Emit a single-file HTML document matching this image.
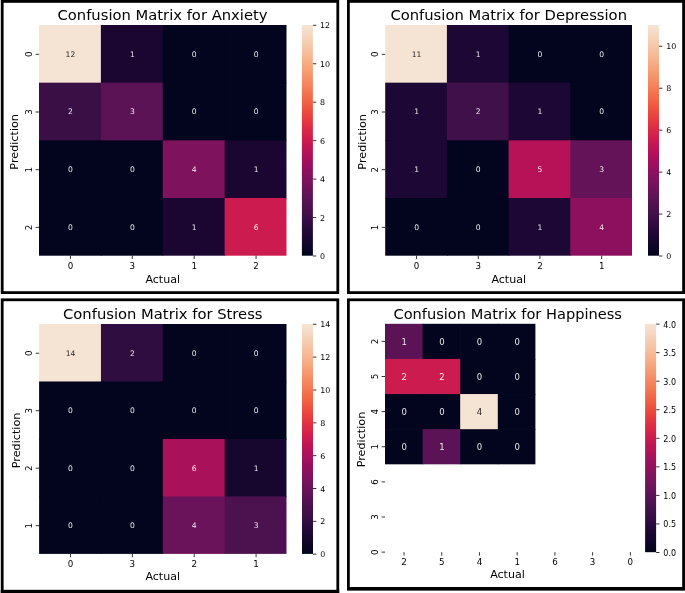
<!DOCTYPE html>
<html lang="en"><head><meta charset="utf-8"><title>Confusion Matrices</title>
<style>
html,body{margin:0;padding:0;background:#fff;}
body{width:685px;height:593px;overflow:hidden;}
svg{display:block;font-family:"DejaVu Sans","Liberation Sans",sans-serif;filter:blur(0.35px);}
</style></head><body>
<svg width="685" height="593" viewBox="0 0 685 593">
<defs>
<linearGradient id="rk" x1="0" y1="0" x2="0" y2="1"><stop offset="0.0000" stop-color="#f5e4d4"/><stop offset="0.0312" stop-color="#f5dbc6"/><stop offset="0.0625" stop-color="#f5d1b7"/><stop offset="0.0938" stop-color="#f5c6a8"/><stop offset="0.1250" stop-color="#f6bc99"/><stop offset="0.1562" stop-color="#f6b089"/><stop offset="0.1875" stop-color="#f6a37a"/><stop offset="0.2188" stop-color="#f5966c"/><stop offset="0.2500" stop-color="#f58860"/><stop offset="0.2812" stop-color="#f47a54"/><stop offset="0.3125" stop-color="#f26b49"/><stop offset="0.3438" stop-color="#f05c42"/><stop offset="0.3750" stop-color="#ec4c3e"/><stop offset="0.4062" stop-color="#e73d3f"/><stop offset="0.4375" stop-color="#df2f44"/><stop offset="0.4688" stop-color="#d62449"/><stop offset="0.5000" stop-color="#cb1b4f"/><stop offset="0.5312" stop-color="#be1455"/><stop offset="0.5625" stop-color="#b0115a"/><stop offset="0.5938" stop-color="#a1105d"/><stop offset="0.6250" stop-color="#92105e"/><stop offset="0.6562" stop-color="#84125e"/><stop offset="0.6875" stop-color="#76135c"/><stop offset="0.7188" stop-color="#69135a"/><stop offset="0.7500" stop-color="#5c1356"/><stop offset="0.7812" stop-color="#4f1251"/><stop offset="0.8125" stop-color="#43104b"/><stop offset="0.8438" stop-color="#370e45"/><stop offset="0.8750" stop-color="#2b0b3d"/><stop offset="0.9062" stop-color="#1f0835"/><stop offset="0.9375" stop-color="#15062c"/><stop offset="0.9688" stop-color="#0b0524"/><stop offset="1.0000" stop-color="#02051d"/></linearGradient>
</defs>
<rect width="685" height="593" fill="#fff"/>
<g>
<rect x="2.20" y="1.40" width="335.60" height="291.20" fill="none" stroke="#000" stroke-width="2.8"/>
<rect x="39.00" y="25.00" width="62.58" height="58.38" fill="#f5e4d4"/>
<rect x="100.88" y="25.00" width="62.58" height="58.38" fill="#1b0631"/>
<rect x="162.75" y="25.00" width="62.58" height="58.38" fill="#02051d"/>
<rect x="224.62" y="25.00" width="61.88" height="58.38" fill="#02051d"/>
<rect x="39.00" y="82.67" width="62.58" height="58.38" fill="#3a0f46"/>
<rect x="100.88" y="82.67" width="62.58" height="58.38" fill="#5c1356"/>
<rect x="162.75" y="82.67" width="62.58" height="58.38" fill="#02051d"/>
<rect x="224.62" y="82.67" width="61.88" height="58.38" fill="#02051d"/>
<rect x="39.00" y="140.35" width="62.58" height="58.38" fill="#02051d"/>
<rect x="100.88" y="140.35" width="62.58" height="58.38" fill="#02051d"/>
<rect x="162.75" y="140.35" width="62.58" height="58.38" fill="#7f125d"/>
<rect x="224.62" y="140.35" width="61.88" height="58.38" fill="#1b0631"/>
<rect x="39.00" y="198.02" width="62.58" height="57.67" fill="#02051d"/>
<rect x="100.88" y="198.02" width="62.58" height="57.67" fill="#02051d"/>
<rect x="162.75" y="198.02" width="62.58" height="57.67" fill="#1b0631"/>
<rect x="224.62" y="198.02" width="61.88" height="57.67" fill="#cb1b4f"/>
<g font-size="7.6" text-anchor="middle">
<text x="70.44" y="56.81" fill="#262626">12</text>
<text x="132.31" y="56.81" fill="#fff" fill-opacity="0.9">1</text>
<text x="194.19" y="56.81" fill="#fff" fill-opacity="0.9">0</text>
<text x="256.06" y="56.81" fill="#fff" fill-opacity="0.9">0</text>
<text x="70.44" y="114.49" fill="#fff" fill-opacity="0.9">2</text>
<text x="132.31" y="114.49" fill="#fff" fill-opacity="0.9">3</text>
<text x="194.19" y="114.49" fill="#fff" fill-opacity="0.9">0</text>
<text x="256.06" y="114.49" fill="#fff" fill-opacity="0.9">0</text>
<text x="70.44" y="172.16" fill="#fff" fill-opacity="0.9">0</text>
<text x="132.31" y="172.16" fill="#fff" fill-opacity="0.9">0</text>
<text x="194.19" y="172.16" fill="#fff" fill-opacity="0.9">4</text>
<text x="256.06" y="172.16" fill="#fff" fill-opacity="0.9">1</text>
<text x="70.44" y="229.84" fill="#fff" fill-opacity="0.9">0</text>
<text x="132.31" y="229.84" fill="#fff" fill-opacity="0.9">0</text>
<text x="194.19" y="229.84" fill="#fff" fill-opacity="0.9">1</text>
<text x="256.06" y="229.84" fill="#fff" fill-opacity="0.9">6</text>
</g>
<path d="M70.44 255.70v3.4M132.31 255.70v3.4M194.19 255.70v3.4M256.06 255.70v3.4M39.00 54.34h-3.4M39.00 112.01h-3.4M39.00 169.69h-3.4M39.00 227.36h-3.4M312.90 256.00h3.4M312.90 217.55h3.4M312.90 179.10h3.4M312.90 140.65h3.4M312.90 102.20h3.4M312.90 63.75h3.4M312.90 25.30h3.4" stroke="#000" stroke-width="0.8" fill="none"/>
<g font-size="8.7" fill="#000">
<text x="70.44" y="268.80" text-anchor="middle">0</text>
<text x="132.31" y="268.80" text-anchor="middle">3</text>
<text x="194.19" y="268.80" text-anchor="middle">1</text>
<text x="256.06" y="268.80" text-anchor="middle">2</text>
<text transform="translate(31.60 54.34) rotate(-90)" text-anchor="middle">0</text>
<text transform="translate(31.60 112.01) rotate(-90)" text-anchor="middle">3</text>
<text transform="translate(31.60 169.69) rotate(-90)" text-anchor="middle">1</text>
<text transform="translate(31.60 227.36) rotate(-90)" text-anchor="middle">2</text>
<text x="320.10" y="258.98" font-size="7.9">0</text>
<text x="320.10" y="220.53" font-size="7.9">2</text>
<text x="320.10" y="182.08" font-size="7.9">4</text>
<text x="320.10" y="143.63" font-size="7.9">6</text>
<text x="320.10" y="105.18" font-size="7.9">8</text>
<text x="320.10" y="66.73" font-size="7.9">10</text>
<text x="320.10" y="28.28" font-size="7.9">12</text>
</g>
<rect x="301.90" y="25.00" width="11.00" height="230.70" fill="url(#rk)"/>
<text x="162.5" y="20.1" font-size="14.75" text-anchor="middle" fill="#000">Confusion Matrix for Anxiety</text>
<text x="162.7" y="283.1" font-size="11.05" text-anchor="middle" fill="#000">Actual</text>
<text transform="translate(18.4 141.85) rotate(-90)" font-size="11.2" text-anchor="middle" fill="#000">Prediction</text>
</g>
<g>
<rect x="348.40" y="1.40" width="335.20" height="291.20" fill="none" stroke="#000" stroke-width="2.8"/>
<rect x="385.20" y="25.00" width="62.40" height="58.38" fill="#f5e4d4"/>
<rect x="446.90" y="25.00" width="62.40" height="58.38" fill="#1d0734"/>
<rect x="508.60" y="25.00" width="62.40" height="58.38" fill="#02051d"/>
<rect x="570.30" y="25.00" width="61.70" height="58.38" fill="#02051d"/>
<rect x="385.20" y="82.67" width="62.40" height="58.38" fill="#1d0734"/>
<rect x="446.90" y="82.67" width="62.40" height="58.38" fill="#40104a"/>
<rect x="508.60" y="82.67" width="62.40" height="58.38" fill="#1d0734"/>
<rect x="570.30" y="82.67" width="61.70" height="58.38" fill="#02051d"/>
<rect x="385.20" y="140.35" width="62.40" height="58.38" fill="#1d0734"/>
<rect x="446.90" y="140.35" width="62.40" height="58.38" fill="#02051d"/>
<rect x="508.60" y="140.35" width="62.40" height="58.38" fill="#b71257"/>
<rect x="570.30" y="140.35" width="61.70" height="58.38" fill="#641358"/>
<rect x="385.20" y="198.02" width="62.40" height="57.67" fill="#02051d"/>
<rect x="446.90" y="198.02" width="62.40" height="57.67" fill="#02051d"/>
<rect x="508.60" y="198.02" width="62.40" height="57.67" fill="#1d0734"/>
<rect x="570.30" y="198.02" width="61.70" height="57.67" fill="#8d105e"/>
<g font-size="7.6" text-anchor="middle">
<text x="416.55" y="56.81" fill="#262626">11</text>
<text x="478.25" y="56.81" fill="#fff" fill-opacity="0.9">1</text>
<text x="539.95" y="56.81" fill="#fff" fill-opacity="0.9">0</text>
<text x="601.65" y="56.81" fill="#fff" fill-opacity="0.9">0</text>
<text x="416.55" y="114.49" fill="#fff" fill-opacity="0.9">1</text>
<text x="478.25" y="114.49" fill="#fff" fill-opacity="0.9">2</text>
<text x="539.95" y="114.49" fill="#fff" fill-opacity="0.9">1</text>
<text x="601.65" y="114.49" fill="#fff" fill-opacity="0.9">0</text>
<text x="416.55" y="172.16" fill="#fff" fill-opacity="0.9">1</text>
<text x="478.25" y="172.16" fill="#fff" fill-opacity="0.9">0</text>
<text x="539.95" y="172.16" fill="#fff" fill-opacity="0.9">5</text>
<text x="601.65" y="172.16" fill="#fff" fill-opacity="0.9">3</text>
<text x="416.55" y="229.84" fill="#fff" fill-opacity="0.9">0</text>
<text x="478.25" y="229.84" fill="#fff" fill-opacity="0.9">0</text>
<text x="539.95" y="229.84" fill="#fff" fill-opacity="0.9">1</text>
<text x="601.65" y="229.84" fill="#fff" fill-opacity="0.9">4</text>
</g>
<path d="M416.55 255.70v3.4M478.25 255.70v3.4M539.95 255.70v3.4M601.65 255.70v3.4M385.20 54.34h-3.4M385.20 112.01h-3.4M385.20 169.69h-3.4M385.20 227.36h-3.4M659.00 256.00h3.4M659.00 214.05h3.4M659.00 172.11h3.4M659.00 130.16h3.4M659.00 88.22h3.4M659.00 46.27h3.4" stroke="#000" stroke-width="0.8" fill="none"/>
<g font-size="8.7" fill="#000">
<text x="416.55" y="268.80" text-anchor="middle">0</text>
<text x="478.25" y="268.80" text-anchor="middle">3</text>
<text x="539.95" y="268.80" text-anchor="middle">2</text>
<text x="601.65" y="268.80" text-anchor="middle">1</text>
<text transform="translate(377.80 54.34) rotate(-90)" text-anchor="middle">0</text>
<text transform="translate(377.80 112.01) rotate(-90)" text-anchor="middle">3</text>
<text transform="translate(377.80 169.69) rotate(-90)" text-anchor="middle">2</text>
<text transform="translate(377.80 227.36) rotate(-90)" text-anchor="middle">1</text>
<text x="666.20" y="258.98" font-size="7.9">0</text>
<text x="666.20" y="217.04" font-size="7.9">2</text>
<text x="666.20" y="175.09" font-size="7.9">4</text>
<text x="666.20" y="133.15" font-size="7.9">6</text>
<text x="666.20" y="91.20" font-size="7.9">8</text>
<text x="666.20" y="49.26" font-size="7.9">10</text>
</g>
<rect x="648.00" y="25.00" width="11.00" height="230.70" fill="url(#rk)"/>
<text x="508.7" y="20.0" font-size="14.75" text-anchor="middle" fill="#000">Confusion Matrix for Depression</text>
<text x="508.7" y="283.1" font-size="11.05" text-anchor="middle" fill="#000">Actual</text>
<text transform="translate(365.5 141.85) rotate(-90)" font-size="11.2" text-anchor="middle" fill="#000">Prediction</text>
</g>
<g>
<rect x="2.20" y="299.80" width="335.60" height="291.80" fill="none" stroke="#000" stroke-width="2.8"/>
<rect x="0.8" y="589.8" width="338.40" height="3.20" fill="#000"/>
<rect x="39.10" y="324.00" width="62.55" height="58.17" fill="#f5e4d4"/>
<rect x="100.95" y="324.00" width="62.55" height="58.17" fill="#300d41"/>
<rect x="162.80" y="324.00" width="62.55" height="58.17" fill="#02051d"/>
<rect x="224.65" y="324.00" width="61.85" height="58.17" fill="#02051d"/>
<rect x="39.10" y="381.48" width="62.55" height="58.17" fill="#02051d"/>
<rect x="100.95" y="381.48" width="62.55" height="58.17" fill="#02051d"/>
<rect x="162.80" y="381.48" width="62.55" height="58.17" fill="#02051d"/>
<rect x="224.65" y="381.48" width="61.85" height="58.17" fill="#02051d"/>
<rect x="39.10" y="438.95" width="62.55" height="58.17" fill="#02051d"/>
<rect x="100.95" y="438.95" width="62.55" height="58.17" fill="#02051d"/>
<rect x="162.80" y="438.95" width="62.55" height="58.17" fill="#aa115b"/>
<rect x="224.65" y="438.95" width="61.85" height="58.17" fill="#17062e"/>
<rect x="39.10" y="496.42" width="62.55" height="57.47" fill="#02051d"/>
<rect x="100.95" y="496.42" width="62.55" height="57.47" fill="#02051d"/>
<rect x="162.80" y="496.42" width="62.55" height="57.47" fill="#6b135a"/>
<rect x="224.65" y="496.42" width="61.85" height="57.47" fill="#4c1250"/>
<g font-size="7.6" text-anchor="middle">
<text x="70.53" y="355.71" fill="#262626">14</text>
<text x="132.38" y="355.71" fill="#fff" fill-opacity="0.9">2</text>
<text x="194.22" y="355.71" fill="#fff" fill-opacity="0.9">0</text>
<text x="256.07" y="355.71" fill="#fff" fill-opacity="0.9">0</text>
<text x="70.53" y="413.19" fill="#fff" fill-opacity="0.9">0</text>
<text x="132.38" y="413.19" fill="#fff" fill-opacity="0.9">0</text>
<text x="194.22" y="413.19" fill="#fff" fill-opacity="0.9">0</text>
<text x="256.07" y="413.19" fill="#fff" fill-opacity="0.9">0</text>
<text x="70.53" y="470.66" fill="#fff" fill-opacity="0.9">0</text>
<text x="132.38" y="470.66" fill="#fff" fill-opacity="0.9">0</text>
<text x="194.22" y="470.66" fill="#fff" fill-opacity="0.9">6</text>
<text x="256.07" y="470.66" fill="#fff" fill-opacity="0.9">1</text>
<text x="70.53" y="528.14" fill="#fff" fill-opacity="0.9">0</text>
<text x="132.38" y="528.14" fill="#fff" fill-opacity="0.9">0</text>
<text x="194.22" y="528.14" fill="#fff" fill-opacity="0.9">4</text>
<text x="256.07" y="528.14" fill="#fff" fill-opacity="0.9">3</text>
</g>
<path d="M70.53 553.90v3.4M132.38 553.90v3.4M194.22 553.90v3.4M256.07 553.90v3.4M39.10 353.24h-3.4M39.10 410.71h-3.4M39.10 468.19h-3.4M39.10 525.66h-3.4M313.00 554.20h3.4M313.00 521.36h3.4M313.00 488.51h3.4M313.00 455.67h3.4M313.00 422.83h3.4M313.00 389.99h3.4M313.00 357.14h3.4M313.00 324.30h3.4" stroke="#000" stroke-width="0.8" fill="none"/>
<g font-size="8.7" fill="#000">
<text x="70.53" y="567.00" text-anchor="middle">0</text>
<text x="132.38" y="567.00" text-anchor="middle">3</text>
<text x="194.22" y="567.00" text-anchor="middle">2</text>
<text x="256.07" y="567.00" text-anchor="middle">1</text>
<text transform="translate(31.70 353.24) rotate(-90)" text-anchor="middle">0</text>
<text transform="translate(31.70 410.71) rotate(-90)" text-anchor="middle">3</text>
<text transform="translate(31.70 468.19) rotate(-90)" text-anchor="middle">2</text>
<text transform="translate(31.70 525.66) rotate(-90)" text-anchor="middle">1</text>
<text x="320.20" y="557.18" font-size="7.9">0</text>
<text x="320.20" y="524.34" font-size="7.9">2</text>
<text x="320.20" y="491.50" font-size="7.9">4</text>
<text x="320.20" y="458.65" font-size="7.9">6</text>
<text x="320.20" y="425.81" font-size="7.9">8</text>
<text x="320.20" y="392.97" font-size="7.9">10</text>
<text x="320.20" y="360.13" font-size="7.9">12</text>
<text x="320.20" y="327.28" font-size="7.9">14</text>
</g>
<rect x="302.00" y="324.00" width="11.00" height="229.90" fill="url(#rk)"/>
<text x="162.8" y="318.5" font-size="14.75" text-anchor="middle" fill="#000">Confusion Matrix for Stress</text>
<text x="162.7" y="580.4" font-size="11.05" text-anchor="middle" fill="#000">Actual</text>
<text transform="translate(19.5 440.45) rotate(-90)" font-size="11.2" text-anchor="middle" fill="#000">Prediction</text>
</g>
<g>
<rect x="348.40" y="299.80" width="335.20" height="289.20" fill="none" stroke="#000" stroke-width="2.8"/>
<rect x="347.0" y="587.0" width="338.00" height="3.40" fill="#000"/>
<rect x="385.00" y="323.80" width="38.30" height="35.83" fill="#5c1356"/>
<rect x="422.60" y="323.80" width="38.30" height="35.83" fill="#02051d"/>
<rect x="460.20" y="323.80" width="38.30" height="35.83" fill="#02051d"/>
<rect x="497.80" y="323.80" width="37.60" height="35.83" fill="#02051d"/>
<rect x="385.00" y="358.93" width="38.30" height="35.83" fill="#cb1b4f"/>
<rect x="422.60" y="358.93" width="38.30" height="35.83" fill="#cb1b4f"/>
<rect x="460.20" y="358.93" width="38.30" height="35.83" fill="#02051d"/>
<rect x="497.80" y="358.93" width="37.60" height="35.83" fill="#02051d"/>
<rect x="385.00" y="394.06" width="38.30" height="35.83" fill="#02051d"/>
<rect x="422.60" y="394.06" width="38.30" height="35.83" fill="#02051d"/>
<rect x="460.20" y="394.06" width="38.30" height="35.83" fill="#f5e4d4"/>
<rect x="497.80" y="394.06" width="37.60" height="35.83" fill="#02051d"/>
<rect x="385.00" y="429.19" width="38.30" height="35.13" fill="#02051d"/>
<rect x="422.60" y="429.19" width="38.30" height="35.13" fill="#5c1356"/>
<rect x="460.20" y="429.19" width="38.30" height="35.13" fill="#02051d"/>
<rect x="497.80" y="429.19" width="37.60" height="35.13" fill="#02051d"/>
<g font-size="8.5" text-anchor="middle">
<text x="404.30" y="344.67" fill="#fff" fill-opacity="0.9">1</text>
<text x="441.90" y="344.67" fill="#fff" fill-opacity="0.9">0</text>
<text x="479.50" y="344.67" fill="#fff" fill-opacity="0.9">0</text>
<text x="517.10" y="344.67" fill="#fff" fill-opacity="0.9">0</text>
<text x="404.30" y="379.80" fill="#fff" fill-opacity="0.9">2</text>
<text x="441.90" y="379.80" fill="#fff" fill-opacity="0.9">2</text>
<text x="479.50" y="379.80" fill="#fff" fill-opacity="0.9">0</text>
<text x="517.10" y="379.80" fill="#fff" fill-opacity="0.9">0</text>
<text x="404.30" y="414.93" fill="#fff" fill-opacity="0.9">0</text>
<text x="441.90" y="414.93" fill="#fff" fill-opacity="0.9">0</text>
<text x="479.50" y="414.93" fill="#262626">4</text>
<text x="517.10" y="414.93" fill="#fff" fill-opacity="0.9">0</text>
<text x="404.30" y="450.06" fill="#fff" fill-opacity="0.9">0</text>
<text x="441.90" y="450.06" fill="#fff" fill-opacity="0.9">1</text>
<text x="479.50" y="450.06" fill="#fff" fill-opacity="0.9">0</text>
<text x="517.10" y="450.06" fill="#fff" fill-opacity="0.9">0</text>
</g>
<path d="M404.00 552.20v3.4M441.73 552.20v3.4M479.45 552.20v3.4M517.18 552.20v3.4M554.91 552.20v3.4M592.64 552.20v3.4M630.38 552.20v3.4M385.00 341.37h-3.4M385.00 376.50h-3.4M385.00 411.62h-3.4M385.00 446.75h-3.4M385.00 481.88h-3.4M385.00 517.01h-3.4M385.00 552.14h-3.4M656.10 552.50h3.4M656.10 523.95h3.4M656.10 495.40h3.4M656.10 466.85h3.4M656.10 438.30h3.4M656.10 409.75h3.4M656.10 381.20h3.4M656.10 352.65h3.4M656.10 324.10h3.4" stroke="#000" stroke-width="0.8" fill="none"/>
<g font-size="8.7" fill="#000">
<text x="404.00" y="565.30" text-anchor="middle">2</text>
<text x="441.73" y="565.30" text-anchor="middle">5</text>
<text x="479.45" y="565.30" text-anchor="middle">4</text>
<text x="517.18" y="565.30" text-anchor="middle">1</text>
<text x="554.91" y="565.30" text-anchor="middle">6</text>
<text x="592.64" y="565.30" text-anchor="middle">3</text>
<text x="630.38" y="565.30" text-anchor="middle">0</text>
<text transform="translate(377.60 341.37) rotate(-90)" text-anchor="middle">2</text>
<text transform="translate(377.60 376.50) rotate(-90)" text-anchor="middle">5</text>
<text transform="translate(377.60 411.62) rotate(-90)" text-anchor="middle">4</text>
<text transform="translate(377.60 446.75) rotate(-90)" text-anchor="middle">1</text>
<text transform="translate(377.60 481.88) rotate(-90)" text-anchor="middle">6</text>
<text transform="translate(377.60 517.01) rotate(-90)" text-anchor="middle">3</text>
<text transform="translate(377.60 552.14) rotate(-90)" text-anchor="middle">0</text>
<text x="663.30" y="555.92" font-size="8.0">0.0</text>
<text x="663.30" y="527.37" font-size="8.0">0.5</text>
<text x="663.30" y="498.82" font-size="8.0">1.0</text>
<text x="663.30" y="470.27" font-size="8.0">1.5</text>
<text x="663.30" y="441.72" font-size="8.0">2.0</text>
<text x="663.30" y="413.17" font-size="8.0">2.5</text>
<text x="663.30" y="384.62" font-size="8.0">3.0</text>
<text x="663.30" y="356.07" font-size="8.0">3.5</text>
<text x="663.30" y="327.52" font-size="8.0">4.0</text>
</g>
<rect x="645.10" y="323.80" width="11.00" height="228.40" fill="url(#rk)"/>
<text x="507.7" y="318.8" font-size="14.6" text-anchor="middle" fill="#000">Confusion Matrix for Happiness</text>
<text x="507.5" y="578.4" font-size="11.05" text-anchor="middle" fill="#000">Actual</text>
<text transform="translate(365.4 439.50) rotate(-90)" font-size="11.2" text-anchor="middle" fill="#000">Prediction</text>
</g>
</svg>
</body></html>
